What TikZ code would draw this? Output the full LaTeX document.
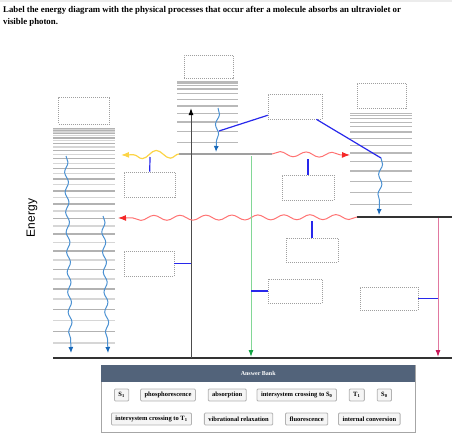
\documentclass[tikz,border=0pt]{standalone}
\usepackage{fontspec}
\setmainfont{Liberation Serif}
\newfontfamily\energyfont{Liberation Sans}
\usetikzlibrary{arrows.meta}
\usetikzlibrary{decorations.pathmorphing}
\usetikzlibrary{positioning}
\definecolor{waveblue}{RGB}{75,145,210}
\definecolor{tipblue}{RGB}{25,105,185}
\definecolor{pointblue}{RGB}{40,40,235}
\definecolor{sunny}{RGB}{252,212,70}
\definecolor{softred}{RGB}{255,115,115}
\definecolor{hotred}{RGB}{245,40,40}
\definecolor{fluogreen}{RGB}{130,215,150}
\definecolor{deepgreen}{RGB}{20,165,70}
\definecolor{phospink}{RGB}{225,120,160}
\definecolor{deeppink}{RGB}{200,25,90}
\definecolor{bankhead}{RGB}{82,99,122}

\begin{document}
\begin{tikzpicture}[x=1pt,y=-1pt,
	level/.style={line width=1.4pt},
	labelbox/.style={draw=gray!75, line width=0.6pt, dash pattern=on 1pt off 1pt, fill=white, minimum width=51pt, minimum height=25pt, inner sep=0pt},
	pointer/.style={draw=pointblue, line width=1.2pt},
	bluewave/.style={draw=waveblue, line width=1pt, decorate, decoration={snake, amplitude=1.8pt, segment length=20pt, post length=6pt}, -{Latex[length=6pt,width=5pt,color=tipblue]}},
	yellowwave/.style={draw=sunny, line width=1.2pt, decorate, decoration={snake, amplitude=4pt, segment length=28pt, post length=8pt}, -{Latex[length=8pt,width=6pt,color=sunny]}},
	redwave/.style={draw=softred, line width=1pt, decorate, decoration={snake, amplitude=2.5pt, segment length=26pt, post length=8pt}, -{Latex[length=8pt,width=6pt,color=hotred]}},
	chip/.style={draw=gray!60, fill=gray!8, rounded corners=1pt, line width=0.8pt, minimum height=12pt, inner xsep=4pt, inner ysep=0pt, font=\bfseries\fontsize{6.5}{6.5}\selectfont}]
			\useasboundingbox (0,0) rectangle (452,436);
			\fill[gray!15] (0,0) rectangle (452,2.5);
			\node[anchor=north west, align=left, inner sep=0pt, font=\bfseries\fontsize{8.8}{12}\selectfont] (question) at (3,6) {Label the energy diagram with the physical processes that occur after a molecule absorbs an ultraviolet or\\visible photon.};
			\node[rotate=90, font=\energyfont\fontsize{12}{12}\selectfont] (energy) at (32,218) {Energy};

			\foreach \i [evaluate=\i as \yy using {343-215*(1-(1-\i/37)^2)}, evaluate=\i as \tone using {int(32+28*mod(\i,2))}] in {0,...,35}
				\draw[level, gray!\tone] (53,\yy) -- (115,\yy);
			\foreach \i [evaluate=\i as \yy using {154-73*(1-(1-\i/12)^2)}] in {1,...,11}
				\draw[level, gray!55] (177,\yy) -- (238,\yy);
			\foreach \i [evaluate=\i as \yy using {217-105*(1-(1-\i/16)^2)}] in {1,...,14}
				\draw[level, gray!55] (350,\yy) -- (412,\yy);

			\coordinate (S0left) at (53,358);
			\coordinate (S0right) at (452,358);
			\coordinate (S1left) at (179,154);
			\coordinate (S1right) at (272,154);
			\coordinate (T1left) at (357,217);
			\coordinate (T1right) at (452,217);
			\draw[line width=2pt, black!80] (S0left) -- (S0right);
			\draw[line width=2pt, gray!75] (S1left) -- (S1right);
			\draw[line width=1.3pt, gray!40!black] (T1left) -- (T1right);

			\coordinate (absfoot) at (191,358);
			\coordinate (abshead) at (191,108);
			\draw[line width=1pt, gray!60!black, -{Latex[length=7pt,width=5pt,color=black]}] (absfoot) -- (abshead);

			\coordinate (vrAtop) at (66,156);
			\coordinate (vrAend) at (71,353);
			\coordinate (vrBtop) at (103,216);
			\coordinate (vrBend) at (108,353);
			\coordinate (vrStop) at (218,108);
			\coordinate (vrSend) at (216,152);
			\coordinate (vrTtop) at (381,158);
			\coordinate (vrTend) at (379,215);
			\draw[bluewave] (vrAtop) -- (vrAend);
			\draw[bluewave] (vrBtop) -- (vrBend);
			\draw[bluewave] (vrStop) -- (vrSend);
			\draw[bluewave] (vrTtop) -- (vrTend);

			\coordinate (icend) at (121,155);
			\draw[yellowwave] (S1left) -- (icend);
			\coordinate (iscSend) at (350,155);
			\draw[redwave] (S1right) -- (iscSend);
			\coordinate (iscTend) at (118,218);
			\draw[redwave] (T1left) -- (iscTend);

			\coordinate (fltop) at (251,156);
			\coordinate (flfoot) at (251,357);
			\draw[line width=1pt, fluogreen, -{Latex[length=7pt,width=5pt,color=deepgreen]}] (fltop) -- (flfoot);
			\coordinate (phtop) at (438,218);
			\coordinate (phfoot) at (438,357);
			\draw[line width=1pt, phospink, -{Latex[length=7pt,width=5pt,color=deeppink]}] (phtop) -- (phfoot);

			\coordinate (icpt) at (150,157);
			\coordinate (abspt) at (191,263.5);
			\coordinate (vrSpt) at (219,131);
			\coordinate (vrTpt) at (381,158);
			\coordinate (iscSpt) at (308,159);
			\coordinate (iscTpt) at (312,221);
			\coordinate (flpt) at (251,291);
			\coordinate (phpt) at (438,298.5);

			\node[labelbox, minimum height=27pt] (S0box) at (84,110.5) {};
			\node[labelbox, minimum width=49pt, minimum height=23pt] (S1box) at (208.5,67) {};
			\node[labelbox, minimum width=49pt] (T1box) at (381.5,95.5) {};
			\node[labelbox] (ICbox) at (149.5,184.5) {} edge[pointer] (icpt);
			\node[labelbox, minimum width=50pt] (ABSbox) at (149,263.5) {} edge[pointer] (abspt);
			\node[labelbox, minimum width=54pt] (VRbox) at (295,106.5) {} edge[pointer] (vrSpt) edge[pointer] (vrTpt);
			\node[labelbox, minimum width=52pt] (ISCSbox) at (308,187.5) {} edge[pointer] (iscSpt);
			\node[labelbox, minimum width=52pt, minimum height=24pt] (ISCTbox) at (312,250) {} edge[pointer] (iscTpt);
			\node[labelbox, minimum width=54pt, minimum height=24pt] (FLbox) at (295,291) {} edge[pointer] (flpt);
			\node[labelbox, minimum width=58pt, minimum height=23pt] (PHbox) at (389,298.5) {} edge[pointer] (phpt);

			\node[draw=gray!70, line width=0.8pt, minimum width=314pt, minimum height=67pt, inner sep=0pt, anchor=north west] (bank) at (101,365) {};
			\node[fill=bankhead, minimum width=314pt, minimum height=17pt, inner sep=0pt, anchor=north west, text=white, font=\bfseries\fontsize{6}{6}\selectfont] (bankhead) at (101,365) {Answer Bank};

			\node[chip, anchor=west] (chipS1) at (114,395) {S\textsubscript{1}};
			\node[chip] (chipPhos) [right=11pt of chipS1] {phosphorescence};
			\node[chip] (chipAbs) [right=12pt of chipPhos] {absorption};
			\node[chip] (chipISCS) [right=10pt of chipAbs] {intersystem crossing to S\textsubscript{0}};
			\node[chip] (chipT1) [right=12pt of chipISCS] {T\textsubscript{1}};
			\node[chip] (chipS0) [right=12pt of chipT1] {S\textsubscript{0}};

			\node[chip, anchor=west] (chipISCT) at (111,419) {intersystem crossing to T\textsubscript{1}};
			\node[chip] (chipVR) [right=12pt of chipISCT] {vibrational relaxation};
			\node[chip] (chipFl) [right=12pt of chipVR] {fluorescence};
			\node[chip] (chipIC) [right=10pt of chipFl] {internal conversion};
		\end{tikzpicture}
\end{document}
